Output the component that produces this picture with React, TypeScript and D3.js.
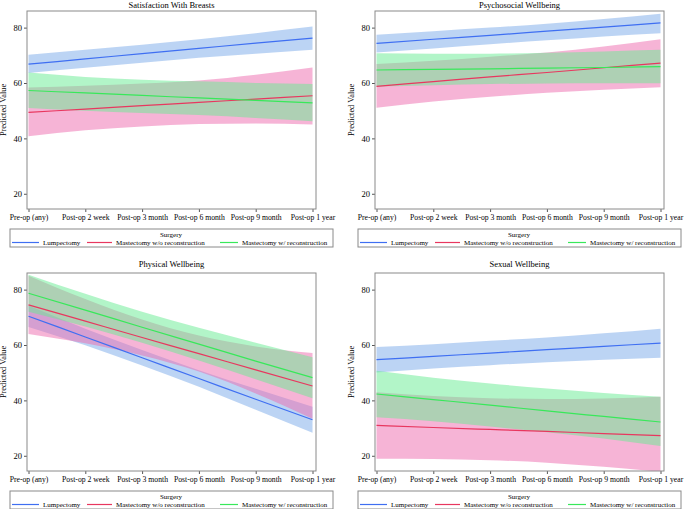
import React, { useRef, useEffect } from 'react';
import * as d3 from 'd3';

// time points on the x axis
const timepoints = [
  'Pre-op (any)',
  'Post-op 2 week',
  'Post-op 3 month',
  'Post-op 6 month',
  'Post-op 9 month',
  'Post-op 1 year',
];
const surgeries = ['Lumpectomy', 'Mastectomy w/o reconstruction', 'Mastectomy w/ reconstruction'];
const yTicks = [20, 40, 60, 80];
const yDomain = [14.5, 86];

// Satisfaction With Breasts
const satLumpMean = [66.8, 68.7, 70.6, 72.5, 74.4, 76.2];
const satLumpLow = [63.6, 65.5, 67.3, 69.1, 70.6, 72.0];
const satLumpHigh = [70.2, 72.0, 73.8, 75.8, 78.0, 80.4];
const satMastMean = [49.4, 50.6, 51.8, 53.0, 54.2, 55.4];
const satMastLow = [40.8, 42.9, 44.3, 45.2, 45.4, 45.0];
const satMastHigh = [58.4, 59.0, 59.8, 60.9, 63.0, 65.6];
const satReconMean = [57.3, 56.4, 55.5, 54.6, 53.7, 52.8];
const satReconLow = [51.0, 50.0, 49.2, 48.4, 47.4, 46.2];
const satReconHigh = [63.8, 62.2, 61.2, 60.6, 60.0, 59.6];

// Psychosocial Wellbeing
const psyLumpMean = [74.3, 75.8, 77.2, 78.7, 80.2, 81.7];
const psyLumpLow = [71.0, 72.5, 74.0, 75.4, 76.8, 78.0];
const psyLumpHigh = [77.4, 78.7, 80.0, 81.4, 83.1, 85.0];
const psyMastMean = [58.8, 60.5, 62.2, 63.8, 65.5, 67.2];
const psyMastLow = [51.1, 53.3, 55.0, 56.5, 57.6, 58.5];
const psyMastHigh = [66.9, 68.0, 69.5, 71.0, 73.2, 75.8];
const psyReconMean = [64.7, 64.9, 65.1, 65.4, 65.6, 65.9];
const psyReconLow = [58.7, 59.2, 59.6, 59.8, 59.9, 59.9];
const psyReconHigh = [70.7, 70.6, 70.6, 70.9, 71.4, 72.0];

// Physical Wellbeing
const phyLumpMean = [70.4, 62.9, 55.4, 47.9, 40.4, 33.0];
const phyLumpLow = [66.5, 59.9, 52.6, 44.9, 36.6, 28.3];
const phyLumpHigh = [74.3, 65.9, 58.2, 50.9, 44.2, 37.7];
const phyMastMean = [74.5, 68.6, 62.7, 56.9, 51.0, 45.2];
const phyMastLow = [64.0, 60.6, 56.2, 50.4, 42.5, 33.4];
const phyMastHigh = [85.0, 76.6, 69.2, 63.4, 59.5, 57.1];
const phyReconMean = [78.7, 72.6, 66.4, 60.3, 54.2, 48.2];
const phyReconLow = [72.0, 66.7, 60.8, 54.4, 47.6, 40.8];
const phyReconHigh = [85.4, 78.5, 72.0, 66.2, 60.8, 55.6];

// Sexual Wellbeing
const sexLumpMean = [54.7, 55.9, 57.1, 58.3, 59.5, 60.7];
const sexLumpLow = [50.1, 51.5, 52.7, 53.8, 54.7, 55.4];
const sexLumpHigh = [59.3, 60.3, 61.5, 62.7, 64.2, 65.9];
const sexMastMean = [31.0, 30.2, 29.5, 28.8, 28.0, 27.3];
const sexMastLow = [18.9, 18.8, 18.4, 17.5, 16.0, 14.2];
const sexMastHigh = [42.9, 41.6, 40.8, 40.5, 40.7, 41.3];
const sexReconMean = [42.3, 40.3, 38.3, 36.2, 34.2, 32.2];
const sexReconLow = [33.9, 32.5, 30.6, 28.5, 26.2, 23.5];
const sexReconHigh = [50.7, 48.2, 46.1, 44.3, 42.7, 41.3];

const lineColors = ['#3f6ff2', '#e8375f', '#38e85a'];
const bandColors = ['#7aa9e9', '#ed69ad', '#65eb91'];

const panels = [
  {
    title: 'Satisfaction With Breasts', left: 27, top: 11,
    series: [
      [satLumpMean, satLumpLow, satLumpHigh],
      [satMastMean, satMastLow, satMastHigh],
      [satReconMean, satReconLow, satReconHigh],
    ],
  },
  {
    title: 'Psychosocial Wellbeing', left: 375, top: 11,
    series: [
      [psyLumpMean, psyLumpLow, psyLumpHigh],
      [psyMastMean, psyMastLow, psyMastHigh],
      [psyReconMean, psyReconLow, psyReconHigh],
    ],
  },
  {
    title: 'Physical Wellbeing', left: 27, top: 273,
    series: [
      [phyLumpMean, phyLumpLow, phyLumpHigh],
      [phyMastMean, phyMastLow, phyMastHigh],
      [phyReconMean, phyReconLow, phyReconHigh],
    ],
  },
  {
    title: 'Sexual Wellbeing', left: 375, top: 273,
    series: [
      [sexLumpMean, sexLumpLow, sexLumpHigh],
      [sexMastMean, sexMastLow, sexMastHigh],
      [sexReconMean, sexReconLow, sexReconHigh],
    ],
  },
];

const FONT = '"Liberation Serif", "Times New Roman", serif';

export default function App() {
  const ref = useRef<SVGSVGElement>(null);
  const width = 685;
  const height = 509;
  const plotW = 289;
  const plotH = 198;

  useEffect(() => {
    if (!ref.current) return;
    const svg = d3.select(ref.current);
    svg.selectAll('*').remove();

    panels.forEach((p, pi) => {
      const g = svg.append('g');
      const x = d3
        .scalePoint<string>()
        .domain(timepoints)
        .range([p.left + 1.5, p.left + plotW - 3.5]);
      const y = d3.scaleLinear().domain(yDomain).range([p.top + plotH, p.top]);

      const clipId = 'clip' + pi;
      g.append('clipPath')
        .attr('id', clipId)
        .append('rect')
        .attr('x', p.left)
        .attr('y', p.top)
        .attr('width', plotW)
        .attr('height', plotH);

      const plot = g.append('g').attr('clip-path', `url(#${clipId})`);

      // bands first (blue, pink, green) then the lines
      p.series.forEach((s, si) => {
        const [, low, high] = s;
        const area = d3
          .area<number>()
          .x((d, i) => x(timepoints[i]) as number)
          .y0((d, i) => y(low[i]))
          .y1((d) => y(d))
          .curve(d3.curveMonotoneX);
        plot
          .append('path')
          .attr('d', area(high) as string)
          .attr('fill', bandColors[si])
          .attr('fill-opacity', 0.5);
      });
      p.series.forEach((s, si) => {
        const line = d3
          .line<number>()
          .x((d, i) => x(timepoints[i]) as number)
          .y((d) => y(d))
          .curve(d3.curveMonotoneX);
        plot
          .append('path')
          .attr('d', line(s[0]) as string)
          .attr('fill', 'none')
          .attr('stroke', lineColors[si])
          .attr('stroke-width', 1.2);
      });

      // axes
      const yAxis = g
        .append('g')
        .attr('transform', `translate(${p.left},0)`)
        .call(d3.axisLeft(y).tickValues(yTicks).tickSize(3).tickPadding(2).tickFormat(d3.format('d')));
      yAxis.select('.domain').remove();
      yAxis.attr('font-family', FONT).attr('font-size', 8.5);
      yAxis.selectAll('text').attr('fill', '#000');
      yAxis.selectAll('line').attr('stroke', '#555');

      const xAxis = g
        .append('g')
        .attr('transform', `translate(0,${p.top + plotH})`)
        .call(d3.axisBottom(x).tickSize(3).tickPadding(3));
      xAxis.select('.domain').remove();
      xAxis.attr('font-family', FONT).attr('font-size', 7.7);
      xAxis.selectAll('text').attr('fill', '#000');
      xAxis.selectAll('line').attr('stroke', '#555');

      // frame
      g.append('rect')
        .attr('x', p.left)
        .attr('y', p.top)
        .attr('width', plotW)
        .attr('height', plotH)
        .attr('fill', 'none')
        .attr('stroke', '#8a8a8a')
        .attr('stroke-width', 1);

      // title (top row kept inside the page)
      g.append('text')
        .attr('x', p.left + plotW / 2)
        .attr('y', Math.max(p.top - 6, 7.5))
        .attr('text-anchor', 'middle')
        .attr('font-family', FONT)
        .attr('font-size', 8.5)
        .text(p.title);

      // y label
      g.append('text')
        .attr('transform', `translate(${p.left - 21.5},${p.top + plotH / 2}) rotate(-90)`)
        .attr('text-anchor', 'middle')
        .attr('font-family', FONT)
        .attr('font-size', 8.3)
        .text('Predicted Value');

      // legend
      const lx = p.left - 17;
      const ly = p.top + plotH + 20;
      const legend = g.append('g').attr('font-family', FONT).attr('font-size', 7);
      legend
        .append('rect')
        .attr('x', lx)
        .attr('y', ly)
        .attr('width', 323)
        .attr('height', 18)
        .attr('fill', 'none')
        .attr('stroke', '#8a8a8a');
      legend
        .append('text')
        .attr('x', lx + 161)
        .attr('y', ly + 7.5)
        .attr('text-anchor', 'middle')
        .text('Surgery');
      const itemX = [2, 77, 210];
      const itemLen = [27, 25, 18];
      surgeries.forEach((name, si) => {
        legend
          .append('line')
          .attr('x1', lx + itemX[si])
          .attr('x2', lx + itemX[si] + itemLen[si])
          .attr('y1', ly + 13.5)
          .attr('y2', ly + 13.5)
          .attr('stroke', lineColors[si])
          .attr('stroke-width', 1.2);
        legend
          .append('text')
          .attr('x', lx + itemX[si] + itemLen[si] + 4)
          .attr('y', ly + 16)
          .text(name);
      });
    });
  }, []);

  return (
    <svg
      ref={ref}
      width={width}
      height={height}
      style={{ position: 'absolute', left: 0, top: 0, background: '#fff' }}
    />
  );
}
